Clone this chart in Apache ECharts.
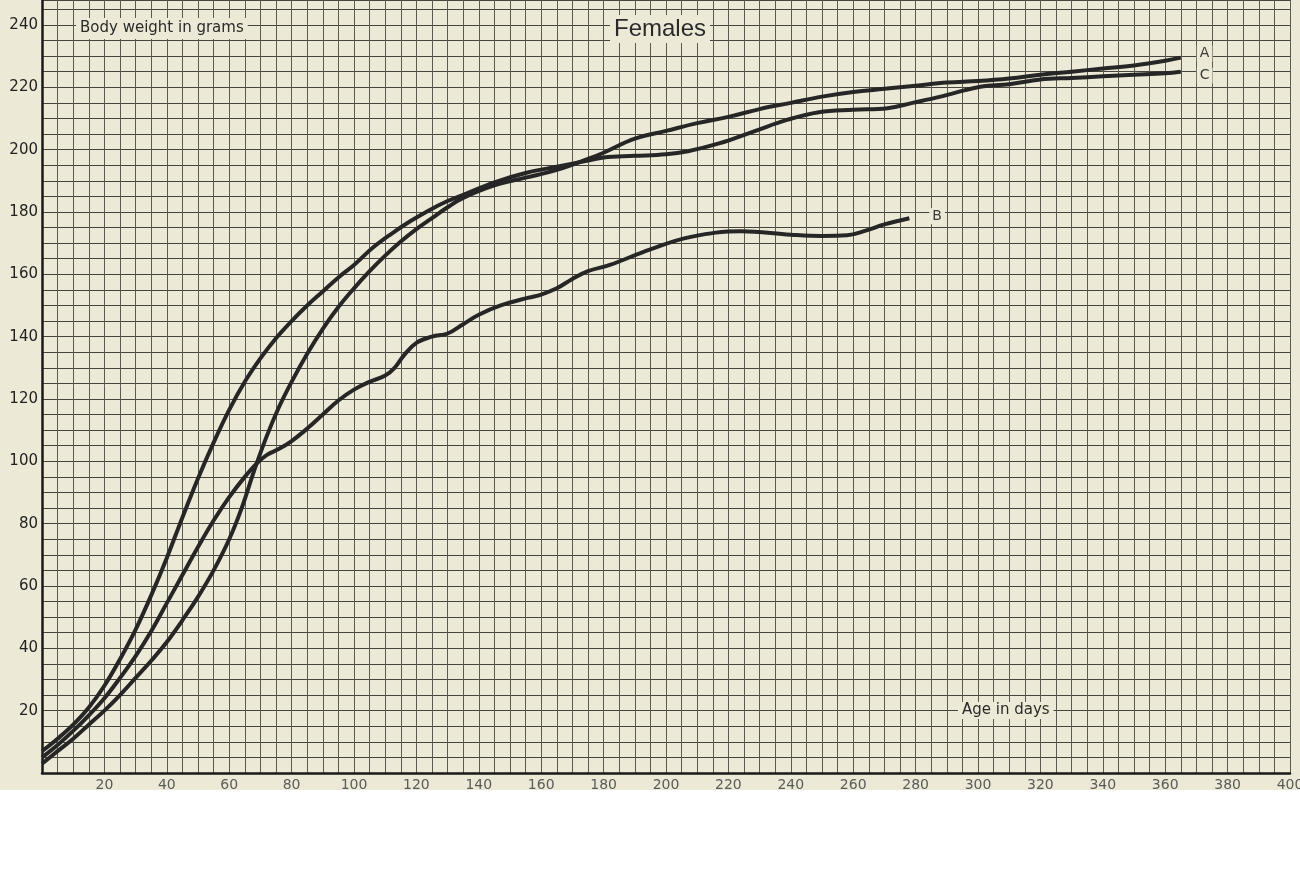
<!DOCTYPE html>
<html>
<head>
<meta charset="utf-8">
<script src="https://cdn.jsdelivr.net/npm/echarts@6/dist/echarts.min.js"></script>
<style>
  html, body { margin: 0; padding: 0; background: #ffffff; }
  #chart { width: 1300px; height: 878px; }
</style>
</head>
<body>
<div id="chart"></div>
<script>
// ---- data ----
var xTickLabels = [20,40,60,80,100,120,140,160,180,200,220,240,260,280,300,320,340,360,380,400];
var yTickLabels = [20,40,60,80,100,120,140,160,180,200,220,240];

var daysA = [0,5,10,15,20,25,30,35,40,45,50,55,60,64,68,72,76,80,85,90,95,100,105,110,115,120,125,130,135,145,155,165,175,180,190,200,210,220,230,240,250,260,270,280,290,300,310,320,330,340,350,360,365];
var weightA = [3,7,11,15.5,20,25,30.5,36,42,49,56.5,65,75,85,97,108,117.5,125.5,134.5,142.5,149.5,155.5,161,166,170.5,174.5,178,181.5,184.5,188.5,191,193.5,197,199,203.5,206,208.5,210.5,213,215,217,218.5,219.5,220.5,221.5,222,222.8,224,225,226,227,228.5,229.5];

var daysB = [0,5,10,15,20,25,30,35,40,45,50,55,60,65,69,72,76,80,85,90,95,100,105,110,113,116,120,125,130,135,140,147,156,160,165,170,175,182,195,208,224,240,250,258,264,270,278];
var weightB = [5,9,13.5,18.5,24,30.5,37.5,45.5,54.5,63.5,72.5,81,88.5,95,99.5,102,104,106.5,110.5,115,119.5,123,125.5,127.5,130,134,138,140,141,144,147,150,152.5,153.5,155.5,158.5,161,163,168,172,173.8,172.7,172.3,172.5,174,176,178];

var daysC = [0,5,10,15,20,25,30,35,40,45,50,55,60,65,70,75,80,85,90,95,100,106,112,118,124,130,135,145,155,165,175,180,190,200,207,217,228,239,249,260,271,279,288,300,310,320,330,340,350,360,365];
var weightC = [7,11,15.5,21,28,36.5,46,57,69,82,94.5,106,116.5,125.5,133,139.5,145,150,154.5,159,163,168.5,173,177,180.5,183.5,185.5,189.5,192.5,194.5,196.5,197.5,198,198.5,199.5,202,205.8,209.6,212,212.8,213.3,215,217,220,221,222.5,223,223.5,224,224.5,225];

function pairs(xs, ys) { return xs.map(function (x, i) { return [x, ys[i]]; }); }

var paper = '#ecead6';
var ink = '#262626';

var chart = echarts.init(document.getElementById('chart'), null, { renderer: 'canvas' });

function lineSeries(name, xs, ys, offset) {
  return {
    name: name,
    type: 'line',
    data: pairs(xs, ys),
    smooth: 0.4,
    showSymbol: false,
    symbol: 'none',
    lineStyle: { color: ink, width: 4 },
    itemStyle: { color: ink },
    z: 5,
    endLabel: {
      show: true,
      formatter: '{a}',
      fontFamily: 'DejaVu Sans',
      fontSize: 14,
      color: '#3a3a3a',
      backgroundColor: paper,
      padding: [1, 3],
      offset: offset
    }
  };
}

chart.setOption({
  backgroundColor: paper,
  animation: false,
  grid: { left: 42, right: 10, top: 0, bottom: 105, containLabel: false, outerBoundsMode: 'none' },
  xAxis: {
    type: 'value',
    min: 0, max: 400, interval: 5,
    axisLine: { show: true, onZero: false, lineStyle: { color: '#1a1a1a', width: 2.5 } },
    axisTick: { show: false },
    axisLabel: {
      margin: 5,
      fontFamily: 'DejaVu Sans', fontSize: 14, color: '#5a5a5a',
      formatter: function (v) { return xTickLabels.indexOf(v) >= 0 ? String(v) : ''; }
    },
    splitLine: { show: true, lineStyle: { color: '#5c5b52', width: 1 } }
  },
  yAxis: {
    type: 'value',
    min: 0, max: 248, interval: 5,
    axisLine: { show: true, onZero: false, lineStyle: { color: '#1a1a1a', width: 2.5 } },
    axisTick: { show: false },
    axisLabel: {
      margin: 4,
      fontFamily: 'DejaVu Sans', fontSize: 15, color: '#222222',
      showMaxLabel: false,
      formatter: function (v) { return yTickLabels.indexOf(v) >= 0 ? String(v) : ''; }
    },
    splitLine: { show: true, lineStyle: { color: '#44433c', width: 1.2 } }
  },
  series: [
    lineSeries('A', daysA, weightA, [8, -4]),
    lineSeries('B', daysB, weightB, [12, -2]),
    lineSeries('C', daysC, weightC, [8, 4])
  ],
  graphic: [
    {
      type: 'text', left: 76, top: 18, z: 10,
      style: {
        text: 'Body weight in grams', fontFamily: 'DejaVu Sans', fontSize: 15,
        fill: '#2a2a2a', backgroundColor: paper, padding: [3, 4]
      }
    },
    {
      type: 'text', left: 610, top: 15, z: 10,
      style: {
        text: 'Females', fontFamily: 'Liberation Sans', fontSize: 24,
        fill: '#2a2a2a', backgroundColor: paper, padding: [2, 4]
      }
    },
    {
      type: 'text', left: 958, top: 702, z: 10,
      style: {
        text: 'Age in days', fontFamily: 'DejaVu Sans', fontSize: 15,
        fill: '#2a2a2a', backgroundColor: paper, padding: [1, 4]
      }
    },
    {
      type: 'rect', left: 0, top: 790, z: 20,
      shape: { width: 1300, height: 88 },
      style: { fill: '#ffffff' }
    }
  ]
});
</script>
</body>
</html>
